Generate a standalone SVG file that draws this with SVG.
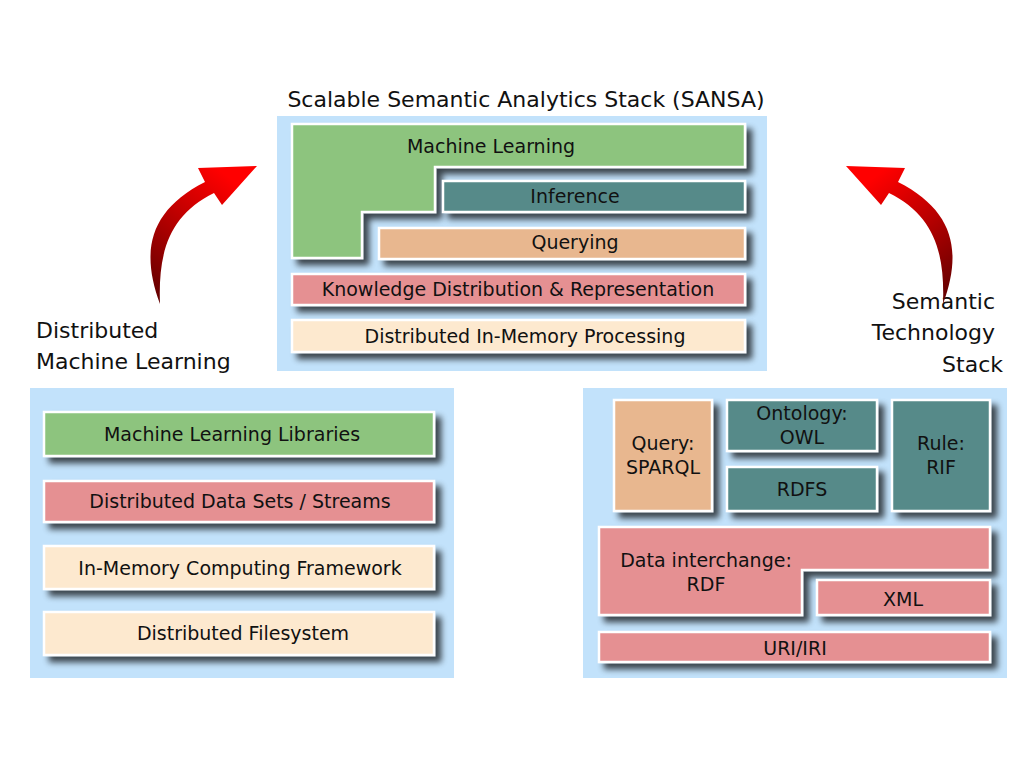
<svg xmlns="http://www.w3.org/2000/svg" width="1024" height="768" viewBox="0 0 1024 768">
<style>
text{font-family:"DejaVu Sans",Verdana,sans-serif;font-size:19px;fill:#111;text-anchor:middle}
.b{stroke:#fff;stroke-width:2.5;filter:url(#sh)}
.pan{fill:#c2e2fb}
.g{fill:#8dc47e}.t{fill:#568a89}.o{fill:#e8b78f}.p{fill:#e59092}.c{fill:#fde9cf}
.lbl{font-size:22px}
</style>
<defs>
<filter id="sh" x="-10%" y="-30%" width="130%" height="190%"><feGaussianBlur in="SourceAlpha" stdDeviation="3"/><feOffset dx="6" dy="6"/><feComponentTransfer><feFuncA type="linear" slope="0.7"/></feComponentTransfer><feMerge><feMergeNode/><feMergeNode in="SourceGraphic"/></feMerge></filter>
<linearGradient id="rg" x1="0" y1="1" x2="0.6" y2="0"><stop offset="0" stop-color="#5a0000"/><stop offset="0.6" stop-color="#c00000"/><stop offset="1" stop-color="#ff0000"/></linearGradient>
</defs>
<rect width="1024" height="768" fill="#fff"/>
<text x="526" y="107" class="lbl">Scalable Semantic Analytics Stack (SANSA)</text>
<g id="sansa">
<rect class="pan" x="277" y="116" width="490" height="255"/>
<g id="ml"><path class="b g" d="M292,124H745V167H435V212H362V258H292Z"/><text x="491" y="153">Machine Learning</text></g>
<g id="inference"><rect class="b t" x="443" y="181" width="302" height="31"/><text x="575" y="203">Inference</text></g>
<g id="querying"><rect class="b o" x="379" y="228" width="366" height="31"/><text x="575" y="249">Querying</text></g>
<g id="kdr"><rect class="b p" x="292" y="274" width="453" height="31"/><text x="518" y="296">Knowledge Distribution &amp; Representation</text></g>
<g id="dimp"><rect class="b c" x="292" y="320" width="453" height="32"/><text x="525" y="343">Distributed In-Memory Processing</text></g>
</g>
<text x="36" y="338" class="lbl" style="text-anchor:start">Distributed</text>
<text x="36" y="369" class="lbl" style="text-anchor:start">Machine Learning</text>
<text x="995" y="309" class="lbl" style="text-anchor:end">Semantic</text>
<text x="995" y="340" class="lbl" style="text-anchor:end">Technology</text>
<text x="1003" y="372" class="lbl" style="text-anchor:end">Stack</text>
<g id="dml">
<rect class="pan" x="30" y="388" width="424" height="290"/>
<g id="mll"><rect class="b g" x="44" y="412" width="390" height="44"/><text x="232" y="441">Machine Learning Libraries</text></g>
<g id="dds"><rect class="b p" x="44" y="481" width="390" height="41"/><text x="240" y="508">Distributed Data Sets / Streams</text></g>
<g id="imc"><rect class="b c" x="44" y="546" width="390" height="43"/><text x="240" y="575">In-Memory Computing Framework</text></g>
<g id="dfs"><rect class="b c" x="44" y="612" width="390" height="43"/><text x="243" y="640">Distributed Filesystem</text></g>
</g>
<g id="sts">
<rect class="pan" x="583" y="388" width="424" height="290"/>
<g id="query"><rect class="b o" x="614" y="400" width="98" height="111"/><text x="663" y="450">Query:</text><text x="663" y="474">SPARQL</text></g>
<g id="owl"><rect class="b t" x="727" y="400" width="150" height="51"/><text x="802" y="420">Ontology:</text><text x="802" y="444">OWL</text></g>
<g id="rdfs"><rect class="b t" x="727" y="467" width="150" height="44"/><text x="802" y="496">RDFS</text></g>
<g id="rif"><rect class="b t" x="892" y="400" width="98" height="111"/><text x="941" y="450">Rule:</text><text x="941" y="474">RIF</text></g>
<g id="rdf"><path class="b p" d="M599,527H990V570H802V615H599Z"/><text x="706" y="567">Data interchange:</text><text x="706" y="591">RDF</text></g>
<g id="xml"><rect class="b p" x="817" y="580" width="173" height="35"/><text x="903" y="606">XML</text></g>
<g id="uri"><rect class="b p" x="599" y="632" width="391" height="30"/><text x="795" y="655">URI/IRI</text></g>
</g>
<g id="connectors">
<path fill="url(#rg)" d="M160,304C140,250 150,210 205,182L198,168L257,166L222,205L214,193C170,215 158,250 160,304Z"/>
<path fill="url(#rg)" transform="translate(1103,0) scale(-1,1)" d="M160,304C140,250 150,210 205,182L198,168L257,166L222,205L214,193C170,215 158,250 160,304Z"/>
</g>
</svg>
